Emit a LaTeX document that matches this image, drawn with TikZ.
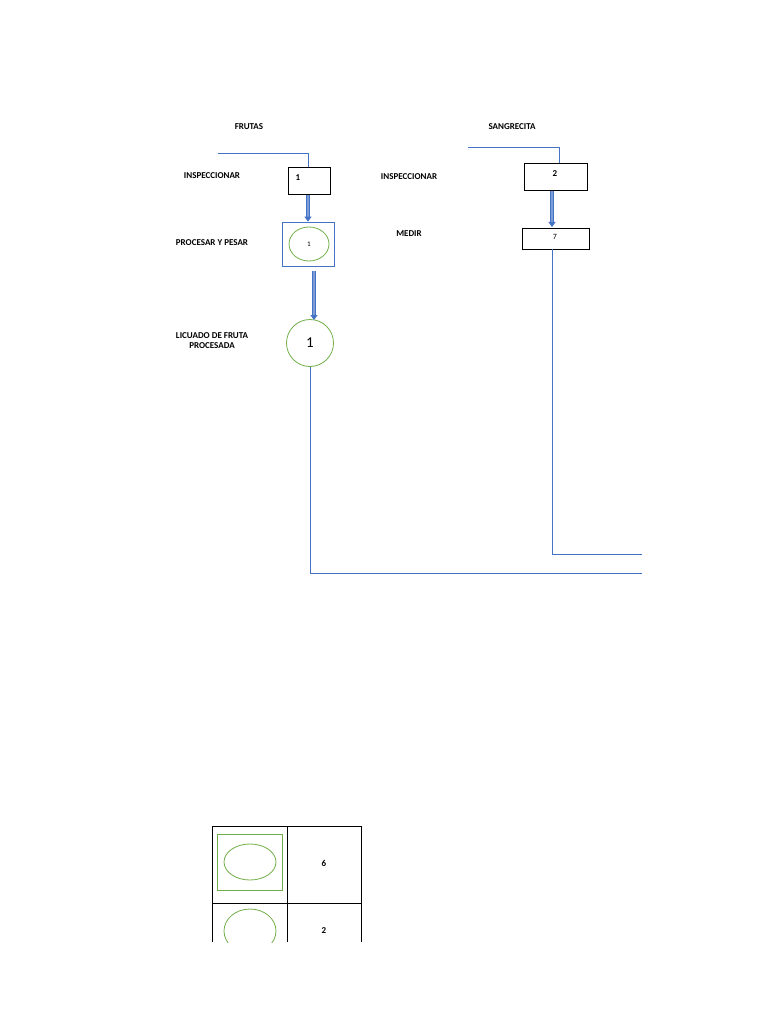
\documentclass[tikz,border=0pt]{standalone}
\usepackage{fontspec}
\setmainfont{Carlito}
\usetikzlibrary{arrows.meta,shapes.geometric}
\definecolor{lb}{RGB}{68,114,196}
\definecolor{gr}{RGB}{112,173,71}
\tikzset{
 lbl/.style={font=\bfseries\fontsize{9}{10}\selectfont, align=center},
 wire/.style={draw=lb, line width=0.7pt},
 flow/.style={draw=lb, line width=1.1pt, double=lb!70, double distance=1.4pt, -{Triangle[length=5pt,width=7pt]}},
 bx/.style={draw=black, line width=0.8pt},
 gel/.style={draw=gr, line width=0.8pt},
}
\begin{document}
\begin{tikzpicture}[x=1pt,y=-1pt]
\useasboundingbox (0,0) rectangle (768,1024);
\node[lbl] (frutas) at (249,127) {FRUTAS};
\node[lbl] (sang) at (512,127) {SANGRECITA};
\node[lbl] (l1) at (212,176) {INSPECCIONAR};
\node[lbl] (l2) at (212,243) {PROCESAR Y PESAR};
\node[lbl] (l3) at (212,341) {LICUADO DE FRUTA\\PROCESADA};
\node[lbl] (l4) at (409,177) {INSPECCIONAR};
\node[lbl] (l5) at (409,234) {MEDIR};
% left column
\coordinate (ls) at (218,153);
\node[bx, minimum width=42, minimum height=27, inner sep=0] (b1) at (309,180.5) {};
\node[lbl] at (298,178) {1};
\draw[wire] (ls) -- (308,153) -- (308,167);
\node[draw=lb, line width=0.7pt, minimum width=52, minimum height=44, inner sep=0] (pb) at (308,244) {};
\node[gel, ellipse, minimum width=40, minimum height=34, inner sep=0] (pe) at (309,244) {};
\node[font=\fontsize{7}{8}\selectfont] at (309,244) {1};
\draw[flow] (308,195) -- (pb.north);
\node[gel, circle, minimum size=47, inner sep=0, font=\fontsize{15}{16}\selectfont] (c1) at (310,343) {1};
\draw[flow] (314,271) -- (314,320);
\coordinate (e1) at (642,573);
\draw[wire] (c1.south) -- (310,573) -- (e1);
% right column
\coordinate (rs) at (468,147);
\node[bx, minimum width=63, minimum height=27, inner sep=0] (b2) at (555.5,176.5) {};
\node[lbl] at (555,174) {2};
\draw[wire] (rs) -- (559,147) -- (559,163);
\node[bx, minimum width=67, minimum height=21, inner sep=0] (b7) at (555.5,238.5) {};
\node[font=\fontsize{8}{9}\selectfont] at (555,237) {7};
\draw[flow] (552,191) -- (552,227);
\coordinate (e2) at (642,554);
\draw[wire] (552,249) -- (552,554) -- (e2);
% table
\draw[line width=0.7pt] (212,942) -- (212,826) -- (361,826) -- (361,942);
\draw[line width=0.7pt] (287,826) -- (287,942);
\draw[line width=0.7pt] (212,903) -- (361,903);
\draw[gel] (217,834) rectangle (282,890);
\draw[gel] (250,862) ellipse (26 and 18);
\begin{scope}
\clip (212,903) rectangle (287,942);
\draw[gel] (250,931) ellipse (26 and 22);
\end{scope}
\node[lbl] (t6) at (324,863) {6};
\node[lbl] (t2) at (324,931) {2};
\end{tikzpicture}
\end{document}
